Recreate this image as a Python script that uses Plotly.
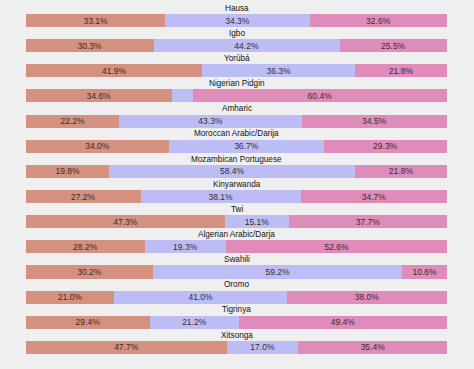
import plotly.graph_objects as go

languages = ["Hausa", "Igbo", "Yorùbá", "Nigerian Pidgin", "Amharic",
             "Moroccan Arabic/Darija", "Mozambican Portuguese", "Kinyarwanda",
             "Twi", "Algerian Arabic/Darja", "Swahili", "Oromo", "Tigrinya", "Xitsonga"]
seg1 = [33.1, 30.3, 41.9, 34.6, 22.2, 34.0, 19.8, 27.2, 47.3, 28.2, 30.2, 21.0, 29.4, 47.7]
seg2 = [34.3, 44.2, 36.3, 5.0, 43.3, 36.7, 58.4, 38.1, 15.1, 19.3, 59.2, 41.0, 21.2, 17.0]
seg3 = [32.6, 25.5, 21.8, 60.4, 34.5, 29.3, 21.8, 34.7, 37.7, 52.6, 10.6, 38.0, 49.4, 35.4]

colors = ["#d4917f", "#bdbdf5", "#e08cbb"]
ypos = list(range(len(languages)))

fig = go.Figure()
for vals, col in zip([seg1, seg2, seg3], colors):
    fig.add_trace(go.Bar(
        x=vals, y=ypos, orientation="h", width=0.52,
        marker=dict(color=col, line=dict(width=0)),
        text=[f"{v:.1f}%" if v >= 8 else "" for v in vals],
        textposition="inside", insidetextanchor="middle", constraintext="none",
        textfont=dict(family="Arial, Liberation Sans", size=8.5, color="#3a2a2a"),
        showlegend=False, hoverinfo="skip",
    ))

for i, name in enumerate(languages):
    fig.add_annotation(x=50, y=i - 0.49, text=name, showarrow=False,
                       xanchor="center", yanchor="middle",
                       font=dict(family="Arial, Liberation Sans", size=8.2, color="#111111"))

fig.update_layout(
    width=474, height=369, barmode="stack",
    margin=dict(l=26, r=27, t=0, b=0),
    paper_bgcolor="#f0efef", plot_bgcolor="#f0efef",
    xaxis=dict(range=[0, 100], visible=False, fixedrange=True),
    yaxis=dict(range=[13.857, -0.815], visible=False, fixedrange=True),
    uniformtext=dict(minsize=6, mode="show"),
)
fig.write_html("out.html", config={"displayModeBar": False},
               post_script="document.body.style.margin='0';")
